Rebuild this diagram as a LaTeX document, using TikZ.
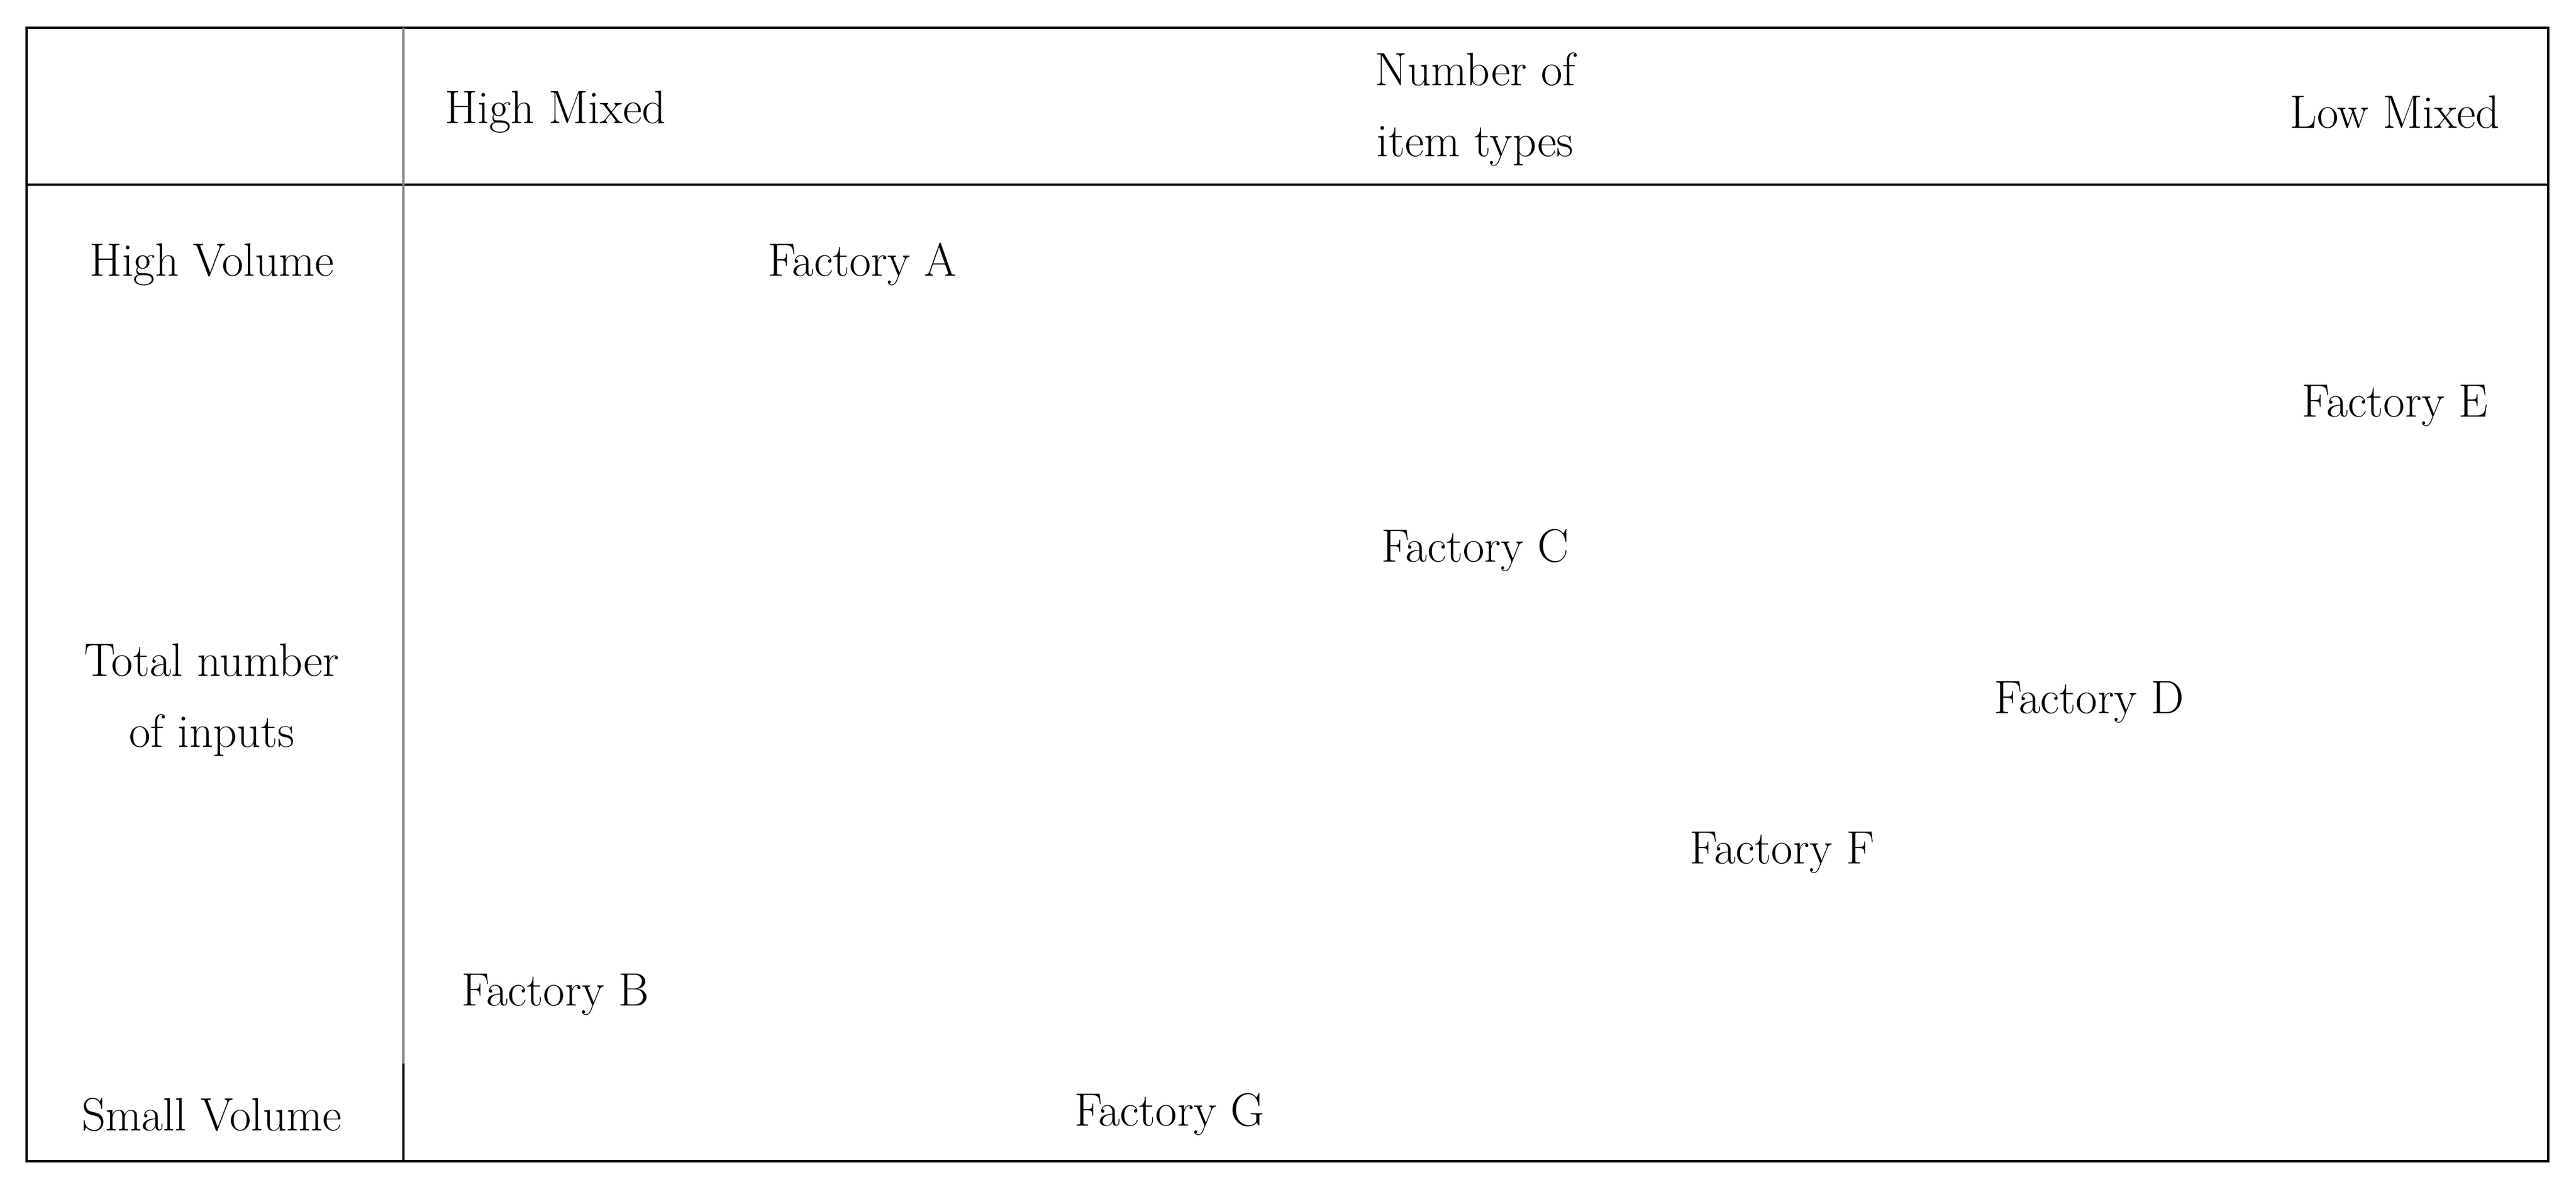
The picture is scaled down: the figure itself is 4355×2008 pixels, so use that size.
\documentclass[tikz,border=0pt]{standalone}
\begin{document}
\begin{tikzpicture}[x=0.01cm,y=-0.01cm,
  lbl/.style={font=\fontsize{22.5}{28}\selectfont,align=center,inner sep=0pt}]
\useasboundingbox (0,0) rectangle (4355,2008);
%TABLE
  \draw[line width=1.2pt] (45,47) rectangle (4308,1962);
  \draw[line width=1.2pt] (45,312) -- (4308,312);
  \draw[line width=1.2pt,gray] (682,47) -- (682,1797);
  \draw[line width=0.9pt] (682,1797) -- (682,1962);
%HEADER
  \node[lbl] (highmix) at (939,189) {High Mixed};
  \node[lbl] (items) at (2494,185) {Number of\\[6pt] item types};
  \node[lbl] (lowmix) at (4049,189) {Low Mixed};
%ROWS
  \node[lbl] (highvol) at (358,447) {High Volume};
  \node[lbl] (inputs) at (358,1183) {Total number\\[6pt] of inputs};
  \node[lbl] (smallvol) at (358,1883) {Small Volume};
%FACTORIES
  \node[lbl] (fa) at (1458,447) {Factory A};
  \node[lbl] (fe) at (4049,686) {Factory E};
  \node[lbl] (fc) at (2494,930) {Factory C};
  \node[lbl] (fd) at (3532,1186) {Factory D};
  \node[lbl] (ff) at (3013,1441) {Factory F};
  \node[lbl] (fb) at (939,1680) {Factory B};
  \node[lbl] (fg) at (1977,1883) {Factory G};
\end{tikzpicture}
\end{document}
